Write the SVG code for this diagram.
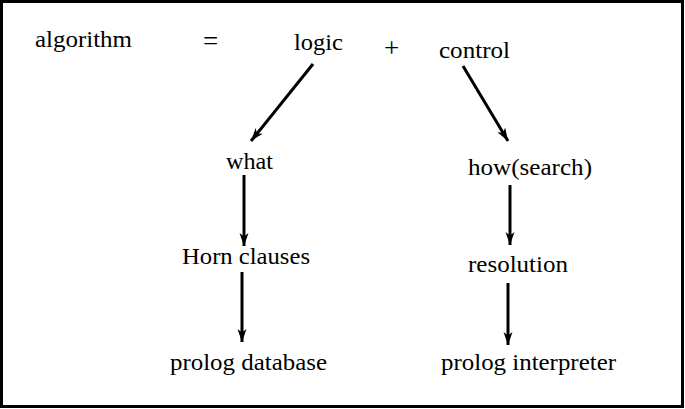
<svg xmlns="http://www.w3.org/2000/svg" width="685" height="409" viewBox="0 0 685 409">
<style>
text{font-family:"Liberation Serif","Times New Roman",serif;font-size:23px;fill:#000}
.op{font-size:27px}
.c{stroke:#000;stroke-width:3;fill:none}
</style>
<defs>
<marker id="ah" markerUnits="userSpaceOnUse" markerWidth="14" markerHeight="10" refX="13" refY="4.5" orient="auto" overflow="visible">
<path d="M0,0 L13,4.5 L0,9 L3.5,4.5 z" fill="#000"/>
</marker>
</defs>
<rect x="1.5" y="1.5" width="681" height="405" fill="#fff" stroke="#000" stroke-width="3"/>
<g id="algorithm"><text x="35" y="47" textLength="97" lengthAdjust="spacingAndGlyphs">algorithm</text></g>
<g id="equals"><text class="op" x="203" y="50">=</text></g>
<g id="logic"><text x="294" y="50" textLength="49" lengthAdjust="spacingAndGlyphs">logic</text></g>
<g id="plus"><text class="op" x="384" y="57">+</text></g>
<g id="control"><text x="439" y="58" textLength="71" lengthAdjust="spacingAndGlyphs">control</text></g>
<g id="what"><text x="226" y="169" textLength="47" lengthAdjust="spacingAndGlyphs">what</text></g>
<g id="horn"><text x="182" y="264" textLength="128" lengthAdjust="spacingAndGlyphs">Horn clauses</text></g>
<g id="database"><text x="170" y="370" textLength="157" lengthAdjust="spacingAndGlyphs">prolog database</text></g>
<g id="how"><text x="468" y="175" textLength="124" lengthAdjust="spacingAndGlyphs">how(search)</text></g>
<g id="resolution"><text x="468" y="272" textLength="100" lengthAdjust="spacingAndGlyphs">resolution</text></g>
<g id="interpreter"><text x="441" y="370" textLength="175" lengthAdjust="spacingAndGlyphs">prolog interpreter</text></g>
<g id="connectors">
<line class="c" x1="313" y1="64" x2="251" y2="141" marker-end="url(#ah)"/>
<line class="c" x1="463" y1="66" x2="508" y2="141" marker-end="url(#ah)"/>
<line class="c" x1="244" y1="175" x2="244" y2="246" marker-end="url(#ah)"/>
<line class="c" x1="242" y1="272" x2="242" y2="342" marker-end="url(#ah)"/>
<line class="c" x1="510" y1="185" x2="510" y2="245" marker-end="url(#ah)"/>
<line class="c" x1="508" y1="283" x2="508" y2="345" marker-end="url(#ah)"/>
</g>
</svg>
